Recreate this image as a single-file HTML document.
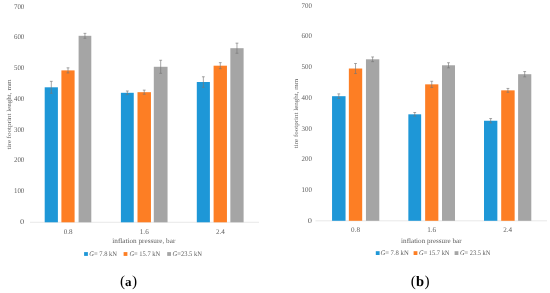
<!DOCTYPE html><html><head><meta charset="utf-8"><style>html,body{margin:0;padding:0;background:#fff;}svg{display:block}text{font-family:"Liberation Serif",serif;text-rendering:geometricPrecision}</style></head><body>
<svg width="550" height="293" viewBox="0 0 550 293">
<rect width="550" height="293" fill="#fff"/>
<text x="24.30" y="223.90" text-anchor="end" font-size="7.2" textLength="4.20" lengthAdjust="spacingAndGlyphs" fill="#606060">0</text>
<text x="24.30" y="193.16" text-anchor="end" font-size="7.2" textLength="10.35" lengthAdjust="spacingAndGlyphs" fill="#606060">100</text>
<text x="24.30" y="162.42" text-anchor="end" font-size="7.2" textLength="10.35" lengthAdjust="spacingAndGlyphs" fill="#606060">200</text>
<text x="24.30" y="131.68" text-anchor="end" font-size="7.2" textLength="10.35" lengthAdjust="spacingAndGlyphs" fill="#606060">300</text>
<text x="24.30" y="100.94" text-anchor="end" font-size="7.2" textLength="10.35" lengthAdjust="spacingAndGlyphs" fill="#606060">400</text>
<text x="24.30" y="70.20" text-anchor="end" font-size="7.2" textLength="10.35" lengthAdjust="spacingAndGlyphs" fill="#606060">500</text>
<text x="24.30" y="39.46" text-anchor="end" font-size="7.2" textLength="10.35" lengthAdjust="spacingAndGlyphs" fill="#606060">600</text>
<text x="24.30" y="8.72" text-anchor="end" font-size="7.2" textLength="10.35" lengthAdjust="spacingAndGlyphs" fill="#606060">700</text>
<line x1="30.0" y1="222.3" x2="259.0" y2="222.3" stroke="#E0E0E0" stroke-width="0.7"/>
<rect x="44.70" y="87.30" width="13.20" height="135.00" fill="#1E97D7"/>
<rect x="61.40" y="70.39" width="13.20" height="151.91" fill="#FD7E24"/>
<rect x="78.60" y="35.81" width="12.70" height="186.49" fill="#A5A5A5"/>
<path d="M51.30 81.33V93.26M49.90 81.33H52.70M49.90 93.26H52.70" stroke="#777777" stroke-width="0.65" fill="none"/>
<path d="M68.00 67.84V72.94M66.60 67.84H69.40M66.60 72.94H69.40" stroke="#777777" stroke-width="0.65" fill="none"/>
<path d="M84.95 33.35V38.27M83.55 33.35H86.35M83.55 38.27H86.35" stroke="#777777" stroke-width="0.65" fill="none"/>
<text x="68.15" y="233.70" text-anchor="middle" font-size="7.1" textLength="8.9" lengthAdjust="spacingAndGlyphs" fill="#606060">0.8</text>
<rect x="120.90" y="92.80" width="12.85" height="129.50" fill="#1E97D7"/>
<rect x="137.50" y="92.18" width="13.45" height="130.12" fill="#FD7E24"/>
<rect x="153.80" y="66.79" width="13.75" height="155.51" fill="#A5A5A5"/>
<path d="M127.33 90.99V94.61M125.92 90.99H128.72M125.92 94.61H128.72" stroke="#777777" stroke-width="0.65" fill="none"/>
<path d="M144.22 90.13V94.24M142.82 90.13H145.62M142.82 94.24H145.62" stroke="#777777" stroke-width="0.65" fill="none"/>
<path d="M160.68 60.25V73.34M159.28 60.25H162.08M159.28 73.34H162.08" stroke="#777777" stroke-width="0.65" fill="none"/>
<text x="144.25" y="233.70" text-anchor="middle" font-size="7.1" textLength="8.9" lengthAdjust="spacingAndGlyphs" fill="#606060">1.6</text>
<rect x="196.80" y="82.01" width="13.10" height="140.29" fill="#1E97D7"/>
<rect x="213.60" y="65.69" width="13.35" height="156.61" fill="#FD7E24"/>
<rect x="230.35" y="48.20" width="13.25" height="174.10" fill="#A5A5A5"/>
<path d="M203.35 76.78V87.24M201.95 76.78H204.75M201.95 87.24H204.75" stroke="#777777" stroke-width="0.65" fill="none"/>
<path d="M220.27 62.67V68.70M218.87 62.67H221.67M218.87 68.70H221.67" stroke="#777777" stroke-width="0.65" fill="none"/>
<path d="M236.97 43.15V53.24M235.57 43.15H238.38M235.57 53.24H238.38" stroke="#777777" stroke-width="0.65" fill="none"/>
<text x="220.35" y="233.70" text-anchor="middle" font-size="7.1" textLength="8.9" lengthAdjust="spacingAndGlyphs" fill="#606060">2.4</text>
<text x="112.30" y="243.20" font-size="6.9" textLength="63.0" lengthAdjust="spacingAndGlyphs" fill="#606060">inflation pressure, bar</text>
<text transform="translate(10.80 149.60) rotate(-90)" x="0" y="0" font-size="6.2" textLength="70.0" lengthAdjust="spacingAndGlyphs" fill="#606060">tire footprint lenght, mm</text>
<rect x="84.10" y="252.10" width="3.8" height="3.8" fill="#1E97D7"/>
<text x="89.30" y="255.90" font-size="7.0" textLength="27.8" lengthAdjust="spacingAndGlyphs" fill="#606060"><tspan font-style="italic">G</tspan>= 7.8 kN</text>
<rect x="123.60" y="252.10" width="3.8" height="3.8" fill="#FD7E24"/>
<text x="129.40" y="255.90" font-size="7.0" textLength="30.8" lengthAdjust="spacingAndGlyphs" fill="#606060"><tspan font-style="italic">G</tspan>= 15.7 kN</text>
<rect x="167.20" y="252.10" width="3.8" height="3.8" fill="#A5A5A5"/>
<text x="172.50" y="255.90" font-size="7.0" textLength="29.4" lengthAdjust="spacingAndGlyphs" fill="#606060"><tspan font-style="italic">G</tspan>=23.5 kN</text>
<text x="128.50" y="285.5" text-anchor="middle" font-size="15.3" fill="#000">(<tspan font-weight="bold" font-size="13">a</tspan><tspan dx="0.5">)</tspan></text>
<text x="311.90" y="222.90" text-anchor="end" font-size="7.2" textLength="4.20" lengthAdjust="spacingAndGlyphs" fill="#606060">0</text>
<text x="311.90" y="192.16" text-anchor="end" font-size="7.2" textLength="10.35" lengthAdjust="spacingAndGlyphs" fill="#606060">100</text>
<text x="311.90" y="161.42" text-anchor="end" font-size="7.2" textLength="10.35" lengthAdjust="spacingAndGlyphs" fill="#606060">200</text>
<text x="311.90" y="130.68" text-anchor="end" font-size="7.2" textLength="10.35" lengthAdjust="spacingAndGlyphs" fill="#606060">300</text>
<text x="311.90" y="99.94" text-anchor="end" font-size="7.2" textLength="10.35" lengthAdjust="spacingAndGlyphs" fill="#606060">400</text>
<text x="311.90" y="69.20" text-anchor="end" font-size="7.2" textLength="10.35" lengthAdjust="spacingAndGlyphs" fill="#606060">500</text>
<text x="311.90" y="38.46" text-anchor="end" font-size="7.2" textLength="10.35" lengthAdjust="spacingAndGlyphs" fill="#606060">600</text>
<text x="311.90" y="7.72" text-anchor="end" font-size="7.2" textLength="10.35" lengthAdjust="spacingAndGlyphs" fill="#606060">700</text>
<line x1="315.5" y1="220.8" x2="547.0" y2="220.8" stroke="#E0E0E0" stroke-width="0.7"/>
<rect x="332.05" y="96.19" width="13.50" height="124.61" fill="#1E97D7"/>
<rect x="348.85" y="68.52" width="13.35" height="152.28" fill="#FD7E24"/>
<rect x="365.95" y="59.30" width="13.35" height="161.50" fill="#A5A5A5"/>
<path d="M338.80 93.88V98.49M337.40 93.88H340.20M337.40 98.49H340.20" stroke="#777777" stroke-width="0.65" fill="none"/>
<path d="M355.52 63.51V73.53M354.12 63.51H356.92M354.12 73.53H356.92" stroke="#777777" stroke-width="0.65" fill="none"/>
<path d="M372.62 56.96V61.64M371.23 56.96H374.02M371.23 61.64H374.02" stroke="#777777" stroke-width="0.65" fill="none"/>
<text x="355.50" y="232.00" text-anchor="middle" font-size="7.1" textLength="8.9" lengthAdjust="spacingAndGlyphs" fill="#606060">0.8</text>
<rect x="408.35" y="114.32" width="12.80" height="106.48" fill="#1E97D7"/>
<rect x="425.15" y="84.35" width="13.20" height="136.45" fill="#FD7E24"/>
<rect x="442.00" y="65.29" width="13.00" height="155.51" fill="#A5A5A5"/>
<path d="M414.75 112.51V116.14M413.35 112.51H416.15M413.35 116.14H416.15" stroke="#777777" stroke-width="0.65" fill="none"/>
<path d="M431.75 81.28V87.43M430.35 81.28H433.15M430.35 87.43H433.15" stroke="#777777" stroke-width="0.65" fill="none"/>
<path d="M448.50 62.74V67.85M447.10 62.74H449.90M447.10 67.85H449.90" stroke="#777777" stroke-width="0.65" fill="none"/>
<text x="431.60" y="232.00" text-anchor="middle" font-size="7.1" textLength="8.9" lengthAdjust="spacingAndGlyphs" fill="#606060">1.6</text>
<rect x="484.00" y="120.75" width="13.35" height="100.05" fill="#1E97D7"/>
<rect x="501.20" y="90.35" width="13.45" height="130.45" fill="#FD7E24"/>
<rect x="518.10" y="74.21" width="13.20" height="146.59" fill="#A5A5A5"/>
<path d="M490.68 118.54V122.96M489.28 118.54H492.07M489.28 122.96H492.07" stroke="#777777" stroke-width="0.65" fill="none"/>
<path d="M507.92 88.44V92.25M506.52 88.44H509.32M506.52 92.25H509.32" stroke="#777777" stroke-width="0.65" fill="none"/>
<path d="M524.70 71.56V76.85M523.30 71.56H526.10M523.30 76.85H526.10" stroke="#777777" stroke-width="0.65" fill="none"/>
<text x="507.70" y="232.00" text-anchor="middle" font-size="7.1" textLength="8.9" lengthAdjust="spacingAndGlyphs" fill="#606060">2.4</text>
<text x="401.10" y="242.60" font-size="6.9" textLength="60.5" lengthAdjust="spacingAndGlyphs" fill="#606060">inflation pressure bar</text>
<text transform="translate(297.90 148.20) rotate(-90)" x="0" y="0" font-size="6.2" textLength="69.4" lengthAdjust="spacingAndGlyphs" fill="#606060">tire footprint lenght, mm</text>
<rect x="375.80" y="251.20" width="3.8" height="3.8" fill="#1E97D7"/>
<text x="380.40" y="255.00" font-size="7.0" textLength="28.3" lengthAdjust="spacingAndGlyphs" fill="#606060"><tspan font-style="italic">G</tspan>= 7.8 kN</text>
<rect x="413.60" y="251.20" width="3.8" height="3.8" fill="#FD7E24"/>
<text x="419.00" y="255.00" font-size="7.0" textLength="30.5" lengthAdjust="spacingAndGlyphs" fill="#606060"><tspan font-style="italic">G</tspan>= 15.7 kN</text>
<rect x="454.60" y="251.20" width="3.8" height="3.8" fill="#A5A5A5"/>
<text x="460.00" y="255.00" font-size="7.0" textLength="30.4" lengthAdjust="spacingAndGlyphs" fill="#606060"><tspan font-style="italic">G</tspan>= 23.5 kN</text>
<text x="420.20" y="285.5" text-anchor="middle" font-size="15.3" fill="#000">(<tspan font-weight="bold" font-size="14.5">b</tspan><tspan dx="0.5">)</tspan></text>
</svg></body></html>
